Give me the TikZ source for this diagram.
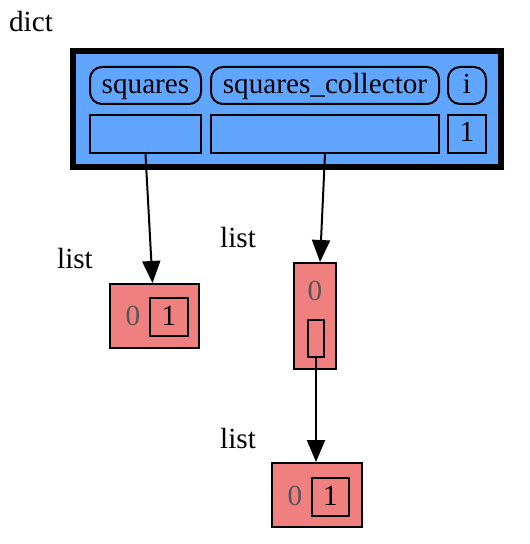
\documentclass[tikz,border=0pt]{standalone}
\usepackage{fontspec}
\setmainfont{Liberation Serif}
\usetikzlibrary{fit,arrows.meta}
\definecolor{dictblue}{RGB}{96,165,255}
\definecolor{listred}{RGB}{240,128,128}
\definecolor{idxgrey}{RGB}{85,85,85}
\begin{document}
\begin{tikzpicture}[x=0.5pt,y=-0.5pt,
  every node/.style={font=\fontsize{14.6}{17}\selectfont},
  cellbox/.style={draw=black,line width=1pt,inner sep=0pt},
  keybox/.style={cellbox,rounded corners=6pt},
  dictbox/.style={draw=black,line width=3pt,fill=dictblue,inner sep=0pt},
  listbox/.style={draw=black,line width=1pt,fill=listred,inner sep=0pt},
  txt/.style={inner sep=0pt,text height=11pt,text depth=3pt},
  idx/.style={txt,text=idxgrey},
  arr/.style={line width=1pt,-{Triangle[width=9pt,length=11pt]}}]
\useasboundingbox (0,0) rectangle (529,544);
% dict
\node[txt] (dlab) at (31,24) {dict};
\node[dictbox,fit={(73,51) (501,167)}] (dict) {};
\node[keybox,fit={(90,67) (201,104)}] (k1) {};
\node[keybox,fit={(211,67) (439,104)}] (k2) {};
\node[keybox,fit={(448,67) (486,104)}] (k3) {};
\node[txt] (k1t) at (k1.center) {squares};
\node[txt] (k2t) at (k2.center) {squares\_collector};
\node[txt] (k3t) at (k3.center) {i};
\node[cellbox,fit={(90,115) (201,153)}] (v1) {};
\node[cellbox,fit={(211,115) (439,153)}] (v2) {};
\node[cellbox,fit={(448,115) (486,153)}] (v3) {};
\node[txt] (v3t) at (v3.center) {1};
% list 1
\node[txt] (l1lab) at (75,261) {list};
\node[listbox,fit={(110,284) (199,348)}] (l1) {};
\node[idx] (l1i) at (133,317) {0};
\node[cellbox,fit={(150,298) (188,336)}] (l1v) {};
\node[txt] (l1vt) at (l1v.center) {1};
% list 2
\node[txt] (l2lab) at (238,240) {list};
\node[listbox,fit={(294,263) (336,369)}] (l2) {};
\node[idx] (l2i) at (315,292) {0};
\node[cellbox,fit={(308,320) (324,357)}] (l2v) {};
% list 3
\node[txt] (l3lab) at (238,440) {list};
\node[listbox,fit={(272,463) (362,527)}] (l3) {};
\node[idx] (l3i) at (295,497) {0};
\node[cellbox,fit={(312,478) (349,516)}] (l3v) {};
\node[txt] (l3vt) at (l3v.center) {1};
% arrows
\draw[arr] (v1.south) -- ([xshift=-1pt]l1.north);
\draw[arr] (v2.south) -- ([xshift=2.5pt]l2.north);
\draw[arr] (l2v.south) -- (l2v.south |- l3.north);
\end{tikzpicture}
\end{document}
